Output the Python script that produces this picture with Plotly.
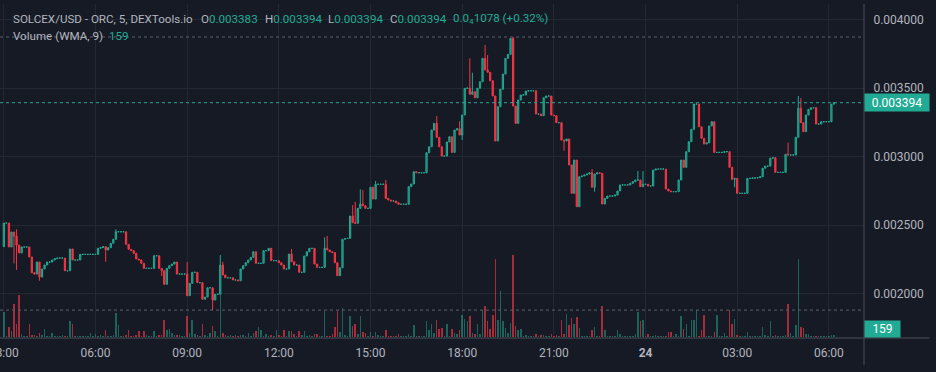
import pandas as pd
import plotly.graph_objects as go

# ---------------- data ----------------
first_open = 0.002342
closes = [
    0.002515, 0.002515, 0.002340, 0.002449, 0.002420, 0.002354, 0.002296, 0.002340, 0.002340, 0.002340,
    0.002267, 0.002152, 0.002142, 0.002230, 0.002120, 0.002179, 0.002208, 0.002230, 0.002230, 0.002245,
    0.002254, 0.002259, 0.002259, 0.002259, 0.002166, 0.002166, 0.002325, 0.002245, 0.002245, 0.002245,
    0.002286, 0.002286, 0.002286, 0.002286, 0.002286, 0.002286, 0.002286, 0.002330, 0.002336, 0.002342,
    0.002318, 0.002335, 0.002367, 0.002396, 0.002451, 0.002451, 0.002451, 0.002451, 0.002359, 0.002323,
    0.002313, 0.002294, 0.002252, 0.002245, 0.002221, 0.002184, 0.002184, 0.002184, 0.002184, 0.002276,
    0.002276, 0.002184, 0.002166, 0.002067, 0.002184, 0.002203, 0.002215, 0.002230, 0.002142, 0.002142,
    0.002142, 0.002142, 0.001984, 0.002074, 0.002155, 0.002155, 0.002079, 0.002079, 0.001958, 0.001974,
    0.002042, 0.002042, 0.001952, 0.001994, 0.001994, 0.002208, 0.002135, 0.002115, 0.002115, 0.002115,
    0.002099, 0.002099, 0.002093, 0.002179, 0.002203, 0.002225, 0.002245, 0.002264, 0.002305, 0.002221,
    0.002221, 0.002221, 0.002313, 0.002313, 0.002330, 0.002240, 0.002240, 0.002240, 0.002225, 0.002208,
    0.002179, 0.002179, 0.002288, 0.002232, 0.002208, 0.002208, 0.002155, 0.002155, 0.002274, 0.002305,
    0.002330, 0.002330, 0.002215, 0.002191, 0.002191, 0.002191, 0.002330, 0.002318, 0.002305, 0.002299,
    0.002225, 0.002130, 0.002188, 0.002396, 0.002402, 0.002403, 0.002566, 0.002517, 0.002513, 0.002622,
    0.002654, 0.002641, 0.002622, 0.002622, 0.002776, 0.002690, 0.002798, 0.002798, 0.002798, 0.002798,
    0.002695, 0.002683, 0.002676, 0.002676, 0.002663, 0.002652, 0.002652, 0.002652, 0.002652, 0.002780,
    0.002800, 0.002890, 0.002882, 0.002882, 0.002882, 0.002882, 0.003028, 0.003072, 0.003194, 0.003243,
    0.003141, 0.003072, 0.003004, 0.003004, 0.003107, 0.003145, 0.003031, 0.003194, 0.003204, 0.003158,
    0.003304, 0.003499, 0.003501, 0.003455, 0.003474, 0.003430, 0.003499, 0.003547, 0.003718, 0.003633,
    0.003616, 0.003554, 0.003443, 0.003114, 0.003364, 0.003492, 0.003603, 0.003718, 0.003747, 0.003864,
    0.003370, 0.003243, 0.003413, 0.003450, 0.003450, 0.003479, 0.003481, 0.003481, 0.003481, 0.003311,
    0.003311, 0.003299, 0.003430, 0.003443, 0.003443, 0.003304, 0.003299, 0.003248, 0.003248, 0.003121,
    0.003114, 0.003129, 0.002939, 0.002732, 0.002975, 0.002634, 0.002853, 0.002858, 0.002866, 0.002873,
    0.002882, 0.002776, 0.002873, 0.002882, 0.002878, 0.002654, 0.002695, 0.002712, 0.002712, 0.002712,
    0.002719, 0.002749, 0.002793, 0.002793, 0.002793, 0.002793, 0.002805, 0.002817, 0.002829, 0.002829,
    0.002780, 0.002798, 0.002798, 0.002785, 0.002785, 0.002902, 0.002909, 0.002909, 0.002909, 0.002909,
    0.002763, 0.002749, 0.002744, 0.002744, 0.002744, 0.002829, 0.002975, 0.002922, 0.003036, 0.003109,
    0.003199, 0.003384, 0.003384, 0.003218, 0.003134, 0.003092, 0.003101, 0.003224, 0.003255, 0.003031,
    0.003031, 0.003031, 0.003031, 0.003036, 0.003036, 0.002922, 0.002834, 0.002841, 0.002732, 0.002732,
    0.002732, 0.002732, 0.002841, 0.002841, 0.002844, 0.002844, 0.002846, 0.002853, 0.002915, 0.002931,
    0.002931, 0.002988, 0.002992, 0.002885, 0.002885, 0.002885, 0.002885, 0.003017, 0.003012, 0.003012,
    0.003012, 0.003141, 0.003353, 0.003248, 0.003182, 0.003304, 0.003345, 0.003357, 0.003357, 0.003238,
    0.003238, 0.003255, 0.003255, 0.003255, 0.003255, 0.003383, 0.003394,
]
volumes = [
    1580, 60, 620, 400, 2110, 850, 2690, 210, 85, 85,
    850, 150, 150, 85, 256, 150, 530, 85, 80, 275,
    85, 80, 85, 110, 45, 60, 1040, 850, 85, 80,
    85, 70, 60, 70, 256, 70, 170, 75, 150, 65,
    470, 60, 85, 150, 1555, 790, 70, 60, 150, 470,
    70, 65, 150, 400, 70, 365, 150, 60, 65, 365,
    70, 150, 150, 1110, 470, 510, 256, 150, 150, 110,
    60, 65, 1325, 256, 1110, 190, 150, 65, 850, 150,
    70, 256, 725, 365, 60, 2690, 256, 150, 65, 150,
    70, 150, 65, 110, 150, 70, 256, 65, 256, 365,
    620, 470, 65, 190, 70, 150, 60, 470, 150, 70,
    430, 65, 365, 400, 210, 65, 365, 110, 365, 70,
    110, 65, 170, 170, 60, 65, 1645, 70, 65, 170,
    640, 1645, 320, 1855, 110, 65, 1325, 685, 850, 210,
    1325, 320, 256, 65, 320, 70, 320, 110, 65, 60,
    470, 65, 70, 60, 65, 210, 60, 65, 60, 210,
    70, 750, 55, 60, 65, 70, 1005, 470, 850, 275,
    1110, 490, 575, 70, 850, 70, 490, 275, 210, 430,
    1430, 1170, 1005, 1325, 256, 210, 850, 210, 1710, 1965,
    1005, 490, 1430, 5010, 1110, 2945, 1005, 575, 256, 915,
    5230, 685, 430, 490, 70, 150, 60, 65, 60, 170,
    65, 150, 150, 70, 60, 210, 65, 110, 60, 1110,
    170, 1490, 750, 1215, 815, 1280, 595, 70, 65, 60,
    70, 470, 620, 65, 60, 2005, 430, 65, 85, 60,
    65, 470, 190, 60, 65, 60, 70, 65, 190, 1580,
    1005, 1110, 65, 210, 60, 70, 150, 60, 65, 60,
    70, 320, 320, 65, 210, 70, 1325, 530, 830, 70,
    1070, 1110, 1745, 65, 430, 1430, 70, 65, 60, 320,
    1410, 65, 60, 256, 65, 1710, 850, 1135, 110, 65,
    60, 65, 320, 60, 65, 60, 65, 60, 640, 110,
    65, 1005, 60, 150, 65, 60, 65, 150, 2095, 256,
    65, 750, 5010, 640, 575, 210, 210, 70, 60, 65,
    60, 65, 60, 65, 60, 110, 159,
]
# wick extremes (candle index -> price) where the wick sticks out of the body
wick_high = {5: 0.002469, 44: 0.002469, 72: 0.002230, 85: 0.002281, 86: 0.002232,
             113: 0.002325, 126: 0.002410, 127: 0.002420, 137: 0.002646, 138: 0.002670,
             140: 0.002761, 141: 0.002756, 146: 0.002822, 150: 0.002829, 170: 0.003297,
             179: 0.003259, 183: 0.003718, 184: 0.003613, 189: 0.003815, 190: 0.003742,
             200: 0.003874, 231: 0.002909, 249: 0.002895, 251: 0.002895, 308: 0.003102,
             312: 0.003443, 313: 0.003428}
wick_low = {4: 0.002220, 5: 0.002172, 14: 0.002093, 40: 0.002232, 62: 0.002128,
            82: 0.001879, 180: 0.003121, 220: 0.003043, 232: 0.002744, 287: 0.002776}

start_time = "2024-01-23 03:00"
price_ticks = [0.0020, 0.0025, 0.0030, 0.0035, 0.0040]
time_tick_vals = ["2024-01-23 03:00", "2024-01-23 06:00", "2024-01-23 09:00", "2024-01-23 12:00",
                  "2024-01-23 15:00", "2024-01-23 18:00", "2024-01-23 21:00", "2024-01-24 00:00",
                  "2024-01-24 03:00", "2024-01-24 06:00"]
time_tick_text = ["03:00", "06:00", "09:00", "12:00", "15:00", "18:00", "21:00",
                  "<b>24</b>", "03:00", "06:00"]
legend_title = "SOLCEX/USD - ORC, 5, DEXTools.io"
legend_ohlc = [("O", "0.003383"), ("H", "0.003394"), ("L", "0.003394"), ("C", "0.003394")]
legend_change = "0.0<sub>4</sub>1078 (+0.32%)"
volume_title = "Volume (WMA, 9)"
last_price = 0.003394
last_volume = 159

# ---------------- styling ----------------
BG = "#161a25"
GRID = "#242833"
TXT = "#b2b5be"
UP = "#22ab94"
DOWN = "#f23645"
FONT = "Roboto"

times = pd.date_range(start_time, periods=len(closes), freq="5min")
opens = [first_open] + closes[:-1]
highs = [max(o, c, wick_high.get(i, 0.0)) for i, (o, c) in enumerate(zip(opens, closes))]
lows = [min(o, c, wick_low.get(i, 1.0)) for i, (o, c) in enumerate(zip(opens, closes))]
is_up = [c >= o for o, c in zip(opens, closes)]

up_idx = [i for i in range(len(closes)) if is_up[i]]
dn_idx = [i for i in range(len(closes)) if not is_up[i]]

def pick(seq, idx):
    return [seq[i] for i in idx]

fig = go.Figure()

# volume bars (overlay axis)
fig.add_trace(go.Bar(
    x=times, y=volumes, yaxis="y2",
    marker=dict(color=["rgba(34,171,148,0.5)" if u else "rgba(242,54,69,0.65)" for u in is_up],
                line=dict(width=0)),
    width=5 * 60 * 1000 * 0.6, hoverinfo="skip",
))

fig.add_trace(go.Candlestick(
    x=pick(times, up_idx), open=pick(opens, up_idx), high=pick(highs, up_idx),
    low=pick(lows, up_idx), close=pick(closes, up_idx),
    increasing=dict(line=dict(color=UP, width=1), fillcolor="rgba(34,171,148,0.6)"),
    decreasing=dict(line=dict(color=UP, width=1), fillcolor="rgba(34,171,148,0.6)"),
    whiskerwidth=0, hoverinfo="skip",
))
fig.add_trace(go.Candlestick(
    x=pick(times, dn_idx), open=pick(opens, dn_idx), high=pick(highs, dn_idx),
    low=pick(lows, dn_idx), close=pick(closes, dn_idx),
    increasing=dict(line=dict(color=DOWN, width=1), fillcolor=DOWN),
    decreasing=dict(line=dict(color=DOWN, width=1), fillcolor=DOWN),
    whiskerwidth=0, hoverinfo="skip",
))

t0 = pd.Timestamp(start_time)
x_left = t0 - pd.Timedelta(minutes=7.5)
x_right = t0 + pd.Timedelta(minutes=1689)

hi_line = max(highs)
lo_line = min(lows)
for yv, col in [(hi_line, "#5d606b"), (lo_line, "#5d606b"), (last_price, UP)]:
    fig.add_shape(type="line", xref="paper", x0=0, x1=1, yref="y", y0=yv, y1=yv,
                  line=dict(color=col, width=1, dash="dot"))

# pane separators
fig.add_shape(type="line", xref="paper", x0=1, x1=1, yref="paper", y0=-0.08, y1=1.0,
              line=dict(color="#4a4e59", width=1))
fig.add_shape(type="line", xref="paper", x0=0, x1=1.076, yref="paper", y0=0, y1=0,
              line=dict(color="#4a4e59", width=1))

def px_x(px):
    return px / 864.0

def px_y(py):
    return (338.0 - py) / 334.0

LEG = 11.6
ann = []
ann.append(dict(text=legend_title, x=px_x(11), y=px_y(19)))
for (lab, val), xp in zip(legend_ohlc, [199, 263, 326, 388]):
    ann.append(dict(text=f'{lab}<span style="color:{UP}">{val}</span>', x=px_x(xp), y=px_y(19)))
ann.append(dict(text=f'<span style="color:{UP}">{legend_change}</span>', x=px_x(451), y=px_y(19)))
ann.append(dict(text=volume_title, x=px_x(11), y=px_y(36)))
ann.append(dict(text=f'<span style="color:{UP}">{last_volume}</span>', x=px_x(107), y=px_y(36)))
annotations = []
for a in ann:
    annotations.append(dict(xref="paper", yref="paper", xanchor="left", yanchor="middle",
                            showarrow=False, font=dict(family=FONT, size=LEG, color=TXT), **a))
annotations.append(dict(xref="paper", yref="y", x=1, y=last_price, xanchor="left", yanchor="middle",
                        text=f"{last_price:.6f}", showarrow=False, bgcolor=UP, width=60, height=13,
                        borderpad=2, font=dict(family=FONT, size=12, color="#ffffff")))
annotations.append(dict(xref="paper", yref="paper", x=1, y=px_y(329), xanchor="left", yanchor="middle",
                        text=str(last_volume), showarrow=False, bgcolor=UP, width=31, height=12,
                        borderpad=2, font=dict(family=FONT, size=12, color="#ffffff")))

fig.update_layout(
    width=936, height=372,
    margin=dict(l=0, r=72, t=4, b=34),
    paper_bgcolor=BG, plot_bgcolor=BG,
    showlegend=False,
    font=dict(family=FONT, size=12, color=TXT),
    annotations=annotations,
    xaxis=dict(type="date", range=[x_left, x_right], rangeslider=dict(visible=False),
               tickvals=time_tick_vals, ticktext=time_tick_text, ticklabeloverflow="allow",
               automargin=False,
               showgrid=True, gridcolor=GRID, gridwidth=1, zeroline=False, showline=False,
               ticks="outside", ticklen=4, tickcolor=BG,
               tickfont=dict(family=FONT, size=12, color=TXT)),
    yaxis=dict(side="right", range=[0.001675, 0.004115], tickvals=price_ticks, tickformat=".6f",
               automargin=False,
               showgrid=True, gridcolor=GRID, gridwidth=1, zeroline=False, showline=False,
               ticks="outside", ticklen=6, tickcolor=BG,
               tickfont=dict(family=FONT, size=12, color=TXT)),
    yaxis2=dict(overlaying="y", range=[-64, 21312], visible=False, fixedrange=True),
    bargap=0,
)

fig.write_html("out.html", config={"displayModeBar": False},
               post_script="document.body.style.margin='0px';document.body.style.background='%s';" % BG)
